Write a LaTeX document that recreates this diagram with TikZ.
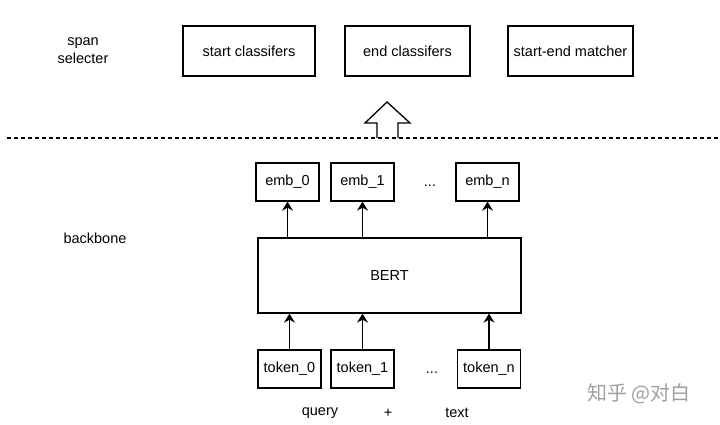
\documentclass[tikz,border=0pt]{standalone}
\usepackage{fontspec}
\setmainfont{Liberation Sans}
\newfontfamily\cjk{Noto Sans CJK SC}
\usetikzlibrary{arrows.meta}
\begin{document}
\begin{tikzpicture}[x=1pt,y=-1pt,
  font=\fontsize{14.5}{18}\selectfont,
  box/.style={draw, line width=1.3pt, inner sep=0pt, align=center},
  topbox/.style={box, minimum height=50pt},
  smallbox/.style={box, minimum width=63pt, minimum height=38pt},
  conn/.style={line width=1.3pt, -{Stealth[length=9pt,width=11pt,inset=3pt]}},
  lbl/.style={inner sep=0pt, align=center}]
\useasboundingbox (0,0) rectangle (720,425);
% span selecter
\node[lbl] (spansel) at (83,51) {span\\selecter};
\node[topbox, minimum width=132pt] (start) at (249,51) {start classifers};
\node[topbox, minimum width=125pt] (endc) at (407.5,51) {end classifers};
\node[topbox, minimum width=125pt] (match) at (570.5,51) {start-end matcher};
% block arrow
\draw[line width=1.3pt, fill=white] (377,138) -- (377,123) -- (365,123) -- (387,102) -- (410,123) -- (398,123) -- (398,138);
% dashed line
\draw[line width=1.1pt, dash pattern=on 3.5pt off 3.5pt] (7,138) -- (720,138);
% backbone
\node[lbl] (backbone) at (95,238) {backbone};
\node[smallbox] (emb0) at (287.5,182) {emb\_0};
\node[smallbox] (emb1) at (362.5,182) {emb\_1};
\node[lbl] (edots) at (430,186) {...};
\node[smallbox] (embn) at (487.5,182) {emb\_n};
\node[box, minimum width=263pt, minimum height=75pt] (bert) at (389.5,275.5) {BERT};
\node[smallbox] (tok0) at (289.5,369) {token\_0};
\node[smallbox] (tok1) at (362.5,369) {token\_1};
\node[lbl] (tdots) at (432,373) {...};
\node[smallbox] (tokn) at (489,369) {token\_n};
\draw[conn] (bert.north -| emb0) -- (emb0.south);
\draw[conn] (bert.north -| emb1) -- (emb1.south);
\draw[conn] (bert.north -| embn) -- (embn.south);
\draw[conn] (tok0.north) -- (tok0.north |- bert.south);
\draw[conn] (tok1.north) -- (tok1.north |- bert.south);
\draw[conn] (tokn.north) -- (tokn.north |- bert.south);
\node[lbl] (query) at (320,413) {query};
\node[lbl] (plus) at (388,413) {+};
\node[lbl] (text) at (457,413) {text};
\node[lbl, text=gray!75, font=\cjk\fontsize{20}{24}\selectfont, anchor=west] (wm) at (587,394) {知乎 @对白};
\end{tikzpicture}
\end{document}
